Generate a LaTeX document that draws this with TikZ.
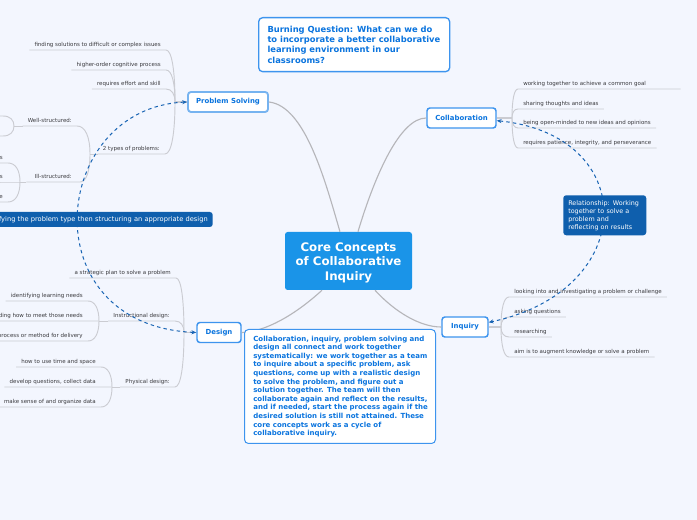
\documentclass[tikz,border=0pt]{standalone}
\usepackage{fontspec}
\setmainfont{DejaVu Sans}
\usetikzlibrary{calc,arrows.meta}
\definecolor{bgc}{HTML}{F3F6FE}
\definecolor{blueT}{HTML}{0A74DE}
\definecolor{blueB}{HTML}{3D94EE}
\definecolor{blueL}{HTML}{76B3F0}
\definecolor{coreC}{HTML}{1A94E8}
\definecolor{darkB}{HTML}{0F5FAD}
\definecolor{branchC}{HTML}{CBCCD2}
\definecolor{mainC}{HTML}{B6B6BA}
\definecolor{dashC}{HTML}{1864B4}
\definecolor{leafT}{HTML}{3A3A3E}
\newcommand{\branch}[3]{\draw[branchline] (#1) .. controls ($(#1)!.6!(#1|-#2)$) and ($(#1|-#2)!.35!(#2)$) .. (#2) -- (#3);}
\tikzset{
  x=.75pt,y=-.75pt,
  leaf/.style={inner xsep=3.75pt,inner ysep=1.9pt,text height=3.2pt,text depth=.8pt,text=leafT,font=\fontsize{4.13pt}{5pt}\selectfont},
  leafE/.style={leaf,anchor=south east},
  leafW/.style={leaf,anchor=south west},
  branchline/.style={draw=branchC,line width=.7pt},
  stemline/.style={draw=branchC,line width=1.1pt},
  mainline/.style={draw=mainC,line width=.85pt},
  topic/.style={draw=blueB,fill=white,rounded corners=2.2pt,line width=1.1pt,text=blueT,inner sep=0pt,font=\fontsize{5.2pt}{6pt}\selectfont\bfseries,minimum height=15pt},
  note/.style={fill=white,draw=blueB,rounded corners=3pt,anchor=north west,align=left,text=blueT,inner sep=0pt},
  darkbox/.style={fill=darkB,rounded corners=2.2pt,text=white,inner ysep=0pt,inner xsep=3.75pt},
  rel/.style={draw=dashC,line width=.75pt,dash pattern=on 2.6pt off 2.4pt,{Stealth[length=3.6pt,width=3pt]}-{Stealth[length=3.6pt,width=3pt]}}
}
\begin{document}
\begin{tikzpicture}
\useasboundingbox (0,0) rectangle (697,520);
\clip (0,0) rectangle (697,520);
\fill[bgc] (0,0) rectangle (697,520);

% central and topic nodes
\node[fill=coreC,rounded corners=2pt,text=white,minimum width=95.25pt,minimum height=43.5pt,inner sep=0pt,align=center,font=\fontsize{8.85pt}{10.9pt}\selectfont\bfseries] (core) at (348.5,261) {\rule{0pt}{9pt}Core Concepts\\of Collaborative\\Inquiry};
\node[topic,minimum width=60pt,draw=blueL,line width=1.4pt] (ps) at (228,102) {Problem Solving};
\node[topic,minimum width=33pt] (des) at (219,332.5) {Design};
\node[topic,minimum width=51.75pt] (col) at (461.5,118) {Collaboration};
\node[topic,minimum width=34.5pt] (inq) at (465,327) {Inquiry};

% main branches
\draw[mainline] (ps.east) .. controls (305,106) and (325,180) .. ([xshift=-6.4pt]core.north);
\draw[mainline] (col.west) .. controls (400,118) and (375,175) .. ([xshift=7.1pt]core.north);
\draw[mainline] ([xshift=19.9pt]core.south) .. controls (395,312) and (420,327) .. (inq.west);
\draw[mainline] ([xshift=-19.9pt]core.south) .. controls (295,315) and (265,332) .. (des.east);

% Problem Solving
\coordinate (pshub) at (175,102);
\draw[stemline] (ps.west) -- (pshub);
\node[leafE] (p1) at (166,50) {finding solutions to difficult or complex issues};
\node[leafE] (p2) at (166,70) {higher-order cognitive process};
\node[leafE] (p3) at (166,89) {requires effort and skill};
\node[leafE] (p4) at (165,154) {2 types of problems:};
\branch{pshub}{p1.south east}{p1.south west}
\branch{pshub}{p2.south east}{p2.south west}
\branch{pshub}{p3.south east}{p3.south west}
\branch{pshub}{p4.south east}{p4.south west}
\coordinate (typehub) at (90,154);
\draw[branchline] (p4.south west) -- (typehub);
\node[leafE] (well) at (77,126) {Well-structured:};
\node[leafE,inner xsep=6pt] (ill) at (80,182) {Ill-structured:};
\branch{typehub}{well.south east}{well.south west}
\branch{typehub}{ill.south east}{ill.south west}
\coordinate (wellhub) at (14,126);
\draw[branchline] (well.south west) -- (wellhub);
\coordinate (wa) at (3,116);
\coordinate (wae) at (-6,116);
\coordinate (wb) at (3,136);
\coordinate (wbe) at (-6,136);
\branch{wellhub}{wa}{wae}
\branch{wellhub}{wb}{wbe}
\coordinate (illhub) at (20,182);
\draw[branchline] (ill.south west) -- (illhub);
\node[leafE] (i1) at (8,163) {s};
\node[leafE] (i2) at (8,182) {rs};
\node[leafE] (i3) at (8,202) {e};
\branch{illhub}{i1.south east}{i1.south west}
\branch{illhub}{i2.south east}{i2.south west}
\branch{illhub}{i3.south east}{i3.south west}

% Design
\coordinate (dhub) at (184,332.5);
\draw[stemline] (des.west) -- (dhub);
\node[leafE] (d1) at (176,278) {a strategic plan to solve a problem};
\node[leafE] (d2) at (175,321) {Instructional design:};
\node[leafE] (d3) at (175,387) {Physical design:};
\branch{dhub}{d1.south east}{d1.south west}
\branch{dhub}{d2.south east}{d2.south west}
\branch{dhub}{d3.south east}{d3.south west}
\coordinate (insthub) at (99,321);
\draw[branchline] (d2.south west) -- (insthub);
\node[leafE] (n1) at (88,301) {identifying learning needs};
\node[leafE] (n2) at (88,321) {deciding how to meet those needs};
\node[leafE] (n3) at (88,341) {a process or method for delivery};
\branch{insthub}{n1.south east}{n1.south west}
\branch{insthub}{n2.south east}{n2.south west}
\branch{insthub}{n3.south east}{n3.south west}
\coordinate (physhub) at (112,387);
\draw[branchline] (d3.south west) -- (physhub);
\node[leafE] (h1) at (101,367) {how to use time and space};
\node[leafE] (h2) at (101,387) {develop questions, collect data};
\node[leafE] (h3) at (101,407) {make sense of and organize data};
\branch{physhub}{h1.south east}{h1.south west}
\branch{physhub}{h2.south east}{h2.south west}
\branch{physhub}{h3.south east}{h3.south west}

% Collaboration
\coordinate (chub) at (512,118);
\draw[stemline] (col.east) -- (chub);
\node[leafW,text width=114pt,align=left] (c1) at (518,89) {working together to achieve a common goal};
\node[leafW] (c2) at (518,109) {sharing thoughts and ideas};
\node[leafW] (c3) at (518,128) {being open-minded to new ideas and opinions};
\node[leafW] (c4) at (518,148) {requires patience, integrity, and perseverance};
\branch{chub}{c1.south west}{c1.south east}
\branch{chub}{c2.south west}{c2.south east}
\branch{chub}{c3.south west}{c3.south east}
\branch{chub}{c4.south west}{c4.south east}

% Inquiry
\coordinate (qhub) at (501,327);
\draw[stemline] (inq.east) -- (qhub);
\node[leafW] (q1) at (509,297) {looking into and investigating a problem or challenge};
\node[leafW] (q2) at (509,317) {asking questions};
\node[leafW] (q3) at (509,337) {researching};
\node[leafW] (q4) at (509,357) {aim is to augment knowledge or solve a problem};
\branch{qhub}{q1.south west}{q1.south east}
\branch{qhub}{q2.south west}{q2.south east}
\branch{qhub}{q3.south west}{q3.south east}
\branch{qhub}{q4.south west}{q4.south east}

% relationships
\draw[rel] (ps.west) .. controls (50,108) and (30,325) .. (des.west);
\draw[rel] ([yshift=-2pt]col.east) .. controls (640,135) and (640,290) .. ([yshift=3.5pt]inq.east);

% labels on relationships
\node[darkbox,anchor=east,text width=195pt,minimum height=11.25pt,align=right,font=\fontsize{5pt}{6pt}\selectfont] (probrel) at (213,219.5) {Identifying the problem type then structuring an appropriate design};
\node[darkbox,anchor=north west,text width=54.75pt,minimum height=30pt,align=left,font=\fontsize{4.8pt}{6pt}\selectfont] (colrel) at (563,195) {Relationship: Working\\together to solve a\\problem and\\reflecting on results};

% notes
\node[note,line width=.75pt,minimum width=143.25pt,minimum height=85.5pt,font=\fontsize{5.25pt}{6.45pt}\selectfont\bfseries] (summary) at (244,329) {\hspace*{5pt}\parbox[c][85.5pt][c]{135pt}{\raggedright Collaboration, inquiry, problem solving and\\design all connect and work together\\systematically: we work together as a team\\to inquire about a specific problem, ask\\questions, come up with a realistic design\\to solve the problem, and figure out a\\solution together. The team will then\\collaborate again and reflect on the results,\\and if needed, start the process again if the\\desired solution is still not attained. These\\core concepts work as a cycle of\\collaborative inquiry.}};
\node[note,line width=1pt,draw=blueB,minimum width=143.25pt,minimum height=40.5pt,font=\fontsize{6.27pt}{7.8pt}\selectfont\bfseries] (burn) at (258,17) {\hspace*{5pt}\parbox[c][40.5pt][c]{135pt}{\raggedright Burning Question: What can we do\\to incorporate a better collaborative\\learning environment in our\\classrooms?}};
\end{tikzpicture}
\end{document}
